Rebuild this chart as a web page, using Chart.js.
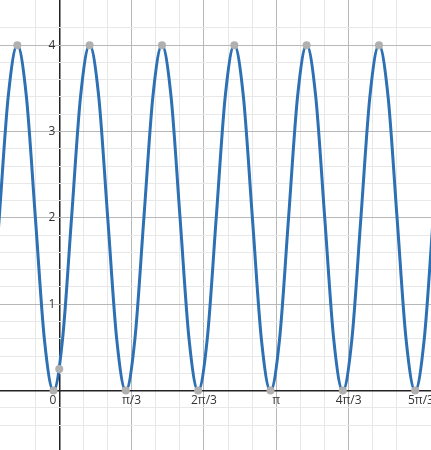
<!DOCTYPE html><html><head><meta charset="utf-8">
<script src="https://cdn.jsdelivr.net/npm/chart.js@4"></script>
<style>html,body{margin:0;padding:0;background:#fff;overflow:hidden}#o{width:431px;height:450px;overflow:hidden;position:relative}#w{width:441px;height:460px;position:absolute;left:-5px;top:-5px}</style></head><body><div id="o"><div id="w"><canvas id="c"></canvas></div></div>
<script>
// x in units of π/3
const xs=[-1.08,-0.955,-0.83,-0.705,-0.58,-0.455,-0.33,-0.205,-0.08,0.045,0.17,0.295,0.42,0.545,0.67,0.795,0.92,1.045,1.17,1.295,1.42,1.545,1.67,1.795,1.92,2.045,2.17,2.295,2.42,2.545,2.67,2.795,2.92,3.045,3.17,3.295,3.42,3.545,3.67,3.795,3.92,4.045,4.17,4.295,4.42,4.545,4.67,4.795,4.92,5.045,5.17,5.295,5.42];
const ys=[0,0.59,2,3.41,4,3.41,2,0.59,0,0.59,2,3.41,4,3.41,2,0.59,0,0.59,2,3.41,4,3.41,2,0.59,0,0.59,2,3.41,4,3.41,2,0.59,0,0.59,2,3.41,4,3.41,2,0.59,0,0.59,2,3.41,4,3.41,2,0.59,0,0.59,2,3.41,4];
const markX=[-0.58,-0.08,0,0.42,0.92,1.42,1.92,2.42,2.92,3.42,3.92,4.42,4.92];
const markY=[4,0,0.25,4,0,4,0,4,0,4,0,4,0];
const xTickLabels=['0','π/3','2π/3','π','4π/3','5π/3'];
const yTickLabels=['1','2','3','4'];
const labelPlugin={id:'lbl',afterDraw(ch){
 const c=ch.ctx,x=ch.scales.x,y=ch.scales.y;const x0=x.getPixelForValue(0),y0=y.getPixelForValue(0);
 c.save();c.font='12px "Open Sans",Arial,sans-serif';c.fillStyle='#333';c.textBaseline='top';
 xTickLabels.forEach((t,i)=>{c.textAlign=i===0?'right':'center';c.fillText(t,i===0?x0-3:x.getPixelForValue(i),y0+4);});
 c.textAlign='right';c.textBaseline='middle';
 yTickLabels.forEach((t,i)=>c.fillText(t,x0-4,y.getPixelForValue(i+1)));
 c.restore();}};
const gc=c=>{const v=c.tick.value;if(Math.abs(v)<1e-6)return '#222';return Math.abs(v-Math.round(v))<1e-3?'#b8b8b8':'#e8e8e8';};
const gw=c=>Math.abs(c.tick.value)<1e-6?1.5:1;
new Chart(document.getElementById('c'),{type:'scatter',
 data:{datasets:[
  {type:'scatter',data:markX.map((v,i)=>({x:v,y:markY[i]})),pointRadius:4,pointBackgroundColor:'#b0b0b0',pointBorderWidth:0,order:0},
  {type:'line',data:xs.map((v,i)=>({x:v,y:ys[i]})),borderColor:'#2d70b3',borderWidth:3,pointRadius:0,cubicInterpolationMode:'monotone',fill:false,order:1}]},
 options:{animation:false,responsive:true,maintainAspectRatio:false,layout:{padding:0},
  plugins:{legend:{display:false},tooltip:{enabled:false}},
  scales:{
   x:{type:'linear',min:-0.833,max:5.153,ticks:{display:false,stepSize:1/3},border:{display:false},grid:{drawTicks:false,lineWidth:gw,color:gc}},
   y:{type:'linear',min:-0.70,max:4.535,ticks:{display:false,stepSize:0.2},border:{display:false},grid:{drawTicks:false,lineWidth:gw,color:gc}}}},
 plugins:[labelPlugin]});
</script></body></html>
